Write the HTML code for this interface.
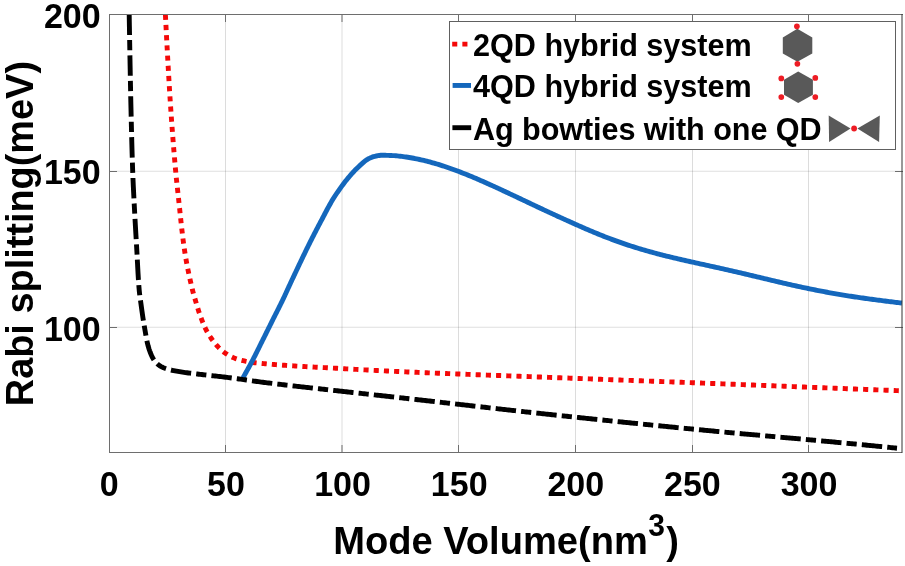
<!DOCTYPE html>
<html><head><meta charset="utf-8"><title>Rabi splitting vs Mode Volume</title>
<style>
html,body{margin:0;padding:0;background:#fff;}
body{width:905px;height:566px;overflow:hidden;}
svg{display:block;}
text{font-family:"Liberation Sans",Arial,Helvetica,sans-serif;font-weight:bold;fill:#000;}
.tk{font-size:34px;}
.lb{font-size:37.9px;}
.lg{font-size:30.6px;}
</style></head><body>
<svg width="905" height="566" viewBox="0 0 905 566">
<rect width="905" height="566" fill="#fff"/>
<defs><clipPath id="cp"><rect x="109.5" y="14.5" width="793.0" height="438.0"/></clipPath></defs>
<g shape-rendering="crispEdges">
<line x1="225.5" y1="14.5" x2="225.5" y2="452.5" stroke="#262626" stroke-opacity="0.16" stroke-width="1"/>
<line x1="342.0" y1="14.5" x2="342.0" y2="452.5" stroke="#262626" stroke-opacity="0.16" stroke-width="1" shape-rendering="geometricPrecision"/>
<line x1="458.5" y1="14.5" x2="458.5" y2="452.5" stroke="#262626" stroke-opacity="0.16" stroke-width="1"/>
<line x1="575.5" y1="14.5" x2="575.5" y2="452.5" stroke="#262626" stroke-opacity="0.16" stroke-width="1"/>
<line x1="692.5" y1="14.5" x2="692.5" y2="452.5" stroke="#262626" stroke-opacity="0.16" stroke-width="1"/>
<line x1="808.5" y1="14.5" x2="808.5" y2="452.5" stroke="#262626" stroke-opacity="0.16" stroke-width="1"/>
<line x1="109.5" y1="327.25" x2="902.5" y2="327.25" stroke="#262626" stroke-opacity="0.15" stroke-width="1" shape-rendering="geometricPrecision"/>
<line x1="109.5" y1="171.25" x2="902.5" y2="171.25" stroke="#262626" stroke-opacity="0.15" stroke-width="1" shape-rendering="geometricPrecision"/>
</g>
<g clip-path="url(#cp)" fill="none" stroke-linejoin="round">
<path d="M165.40,14.50 L165.47,16.00 L165.55,17.50 L165.62,18.99 L165.70,20.49 L165.77,21.99 L165.85,23.49 L165.92,24.99 L166.00,26.49 L166.08,27.98 L166.15,29.48 L166.23,30.98 L166.31,32.48 L166.39,33.98 L166.47,35.47 L166.55,36.97 L166.62,38.47 L166.70,39.97 L166.78,41.46 L166.86,42.96 L166.94,44.46 L167.03,45.96 L167.11,47.46 L167.19,48.95 L167.27,50.45 L167.35,51.95 L167.44,53.45 L167.52,54.94 L167.60,56.44 L167.68,57.94 L167.77,59.44 L167.85,60.94 L167.94,62.43 L168.02,63.93 L168.11,65.43 L168.19,66.93 L168.27,68.42 L168.36,69.92 L168.44,71.42 L168.53,72.92 L168.62,74.41 L168.70,75.91 L168.79,77.41 L168.88,78.91 L168.96,80.40 L169.05,81.90 L169.14,83.40 L169.23,84.90 L169.32,86.39 L169.41,87.89 L169.50,89.39 L169.59,90.89 L169.69,92.38 L169.78,93.88 L169.87,95.38 L169.97,96.87 L170.06,98.37 L170.16,99.87 L170.26,101.36 L170.36,102.86 L170.46,104.36 L170.56,105.85 L170.66,107.35 L170.76,108.85 L170.86,110.34 L170.97,111.84 L171.07,113.34 L171.17,114.83 L171.28,116.33 L171.39,117.83 L171.49,119.32 L171.60,120.82 L171.71,122.31 L171.81,123.81 L171.92,125.31 L172.03,126.80 L172.14,128.30 L172.26,129.79 L172.37,131.29 L172.48,132.79 L172.59,134.28 L172.71,135.78 L172.82,137.27 L172.94,138.77 L173.06,140.27 L173.17,141.76 L173.29,143.26 L173.41,144.75 L173.53,146.25 L173.65,147.74 L173.77,149.24 L173.90,150.73 L174.02,152.23 L174.14,153.72 L174.27,155.22 L174.40,156.71 L174.52,158.21 L174.65,159.70 L174.78,161.20 L174.91,162.69 L175.04,164.18 L175.17,165.68 L175.31,167.17 L175.44,168.67 L175.58,170.16 L175.71,171.65 L175.85,173.15 L175.99,174.64 L176.14,176.13 L176.29,177.62 L176.44,179.12 L176.59,180.61 L176.75,182.10 L176.90,183.59 L177.06,185.08 L177.22,186.58 L177.39,188.07 L177.55,189.56 L177.71,191.05 L177.88,192.54 L178.04,194.03 L178.21,195.52 L178.37,197.01 L178.54,198.50 L178.70,200.00 L178.86,201.49 L179.02,202.98 L179.18,204.47 L179.34,205.96 L179.50,207.46 L179.66,208.95 L179.82,210.44 L179.97,211.93 L180.13,213.43 L180.29,214.92 L180.44,216.41 L180.60,217.91 L180.76,219.40 L180.92,220.89 L181.08,222.39 L181.24,223.88 L181.40,225.37 L181.57,226.86 L181.73,228.36 L181.90,229.85 L182.07,231.34 L182.25,232.83 L182.42,234.32 L182.60,235.81 L182.78,237.29 L182.97,238.78 L183.16,240.27 L183.35,241.75 L183.55,243.24 L183.75,244.72 L183.95,246.21 L184.16,247.69 L184.38,249.17 L184.60,250.65 L184.82,252.13 L185.06,253.61 L185.29,255.09 L185.54,256.57 L185.79,258.05 L186.05,259.53 L186.31,261.00 L186.58,262.48 L186.85,263.96 L187.13,265.43 L187.42,266.91 L187.71,268.38 L188.00,269.86 L188.30,271.33 L188.60,272.80 L188.91,274.27 L189.23,275.74 L189.55,277.21 L189.87,278.67 L190.19,280.14 L190.53,281.60 L190.86,283.07 L191.20,284.53 L191.54,285.99 L191.89,287.45 L192.23,288.90 L192.59,290.36 L192.96,291.81 L193.35,293.25 L193.76,294.70 L194.18,296.14 L194.61,297.58 L195.03,299.02 L195.46,300.46 L195.88,301.90 L196.30,303.34 L196.72,304.78 L197.15,306.22 L197.58,307.65 L198.02,309.09 L198.48,310.52 L198.94,311.94 L199.43,313.36 L199.92,314.78 L200.42,316.19 L200.94,317.60 L201.46,319.01 L202.00,320.40 L202.56,321.80 L203.12,323.19 L203.70,324.58 L204.29,325.96 L204.91,327.33 L205.55,328.69 L206.21,330.02 L206.91,331.34 L207.64,332.66 L208.40,333.96 L209.19,335.24 L210.00,336.51 L210.82,337.76 L211.67,338.99 L212.54,340.21 L213.44,341.42 L214.37,342.61 L215.32,343.78 L216.29,344.93 L217.29,346.04 L218.31,347.12 L219.37,348.18 L220.46,349.22 L221.58,350.24 L222.74,351.22 L223.91,352.16 L225.12,353.04 L226.34,353.86 L227.61,354.67 L228.91,355.45 L230.24,356.18 L231.58,356.87 L232.95,357.51 L234.32,358.07 L235.71,358.58 L237.13,359.05 L238.57,359.50 L240.02,359.91 L241.48,360.30 L242.95,360.65 L244.41,360.98 L245.88,361.28 L247.35,361.56 L248.83,361.83 L250.31,362.08 L251.79,362.31 L253.28,362.52 L254.77,362.71 L256.26,362.87 L257.74,363.02 L259.23,363.18 L260.72,363.32 L262.21,363.47 L263.70,363.61 L265.19,363.75 L266.68,363.88 L268.17,364.02 L269.67,364.15 L271.16,364.27 L272.65,364.40 L274.14,364.52 L275.64,364.64 L277.13,364.75 L278.63,364.87 L280.12,364.98 L281.62,365.09 L283.11,365.20 L284.61,365.30 L286.11,365.41 L287.60,365.51 L289.10,365.61 L290.60,365.71 L292.10,365.80 L293.59,365.90 L295.09,365.99 L296.59,366.08 L298.09,366.17 L299.59,366.26 L301.09,366.35 L302.59,366.44 L304.09,366.53 L305.59,366.61 L307.09,366.70 L308.59,366.78 L310.09,366.86 L311.59,366.94 L313.09,367.03 L314.59,367.11 L316.08,367.19 L317.58,367.27 L319.08,367.35 L320.58,367.43 L322.08,367.51 L323.58,367.59 L325.08,367.67 L326.58,367.75 L328.08,367.83 L329.58,367.91 L331.08,367.99 L332.58,368.07 L334.08,368.15 L335.58,368.24 L337.08,368.32 L338.57,368.40 L340.07,368.49 L341.57,368.58 L343.07,368.66 L344.56,368.75 L346.06,368.83 L347.56,368.92 L349.06,369.00 L350.55,369.09 L352.05,369.17 L353.55,369.26 L355.05,369.34 L356.55,369.42 L358.04,369.50 L359.54,369.58 L361.04,369.67 L362.54,369.75 L364.03,369.83 L365.53,369.91 L367.03,369.98 L368.53,370.06 L370.03,370.14 L371.52,370.22 L373.02,370.30 L374.52,370.37 L376.02,370.45 L377.52,370.53 L379.01,370.60 L380.51,370.67 L382.01,370.75 L383.51,370.82 L385.01,370.90 L386.51,370.97 L388.00,371.04 L389.50,371.11 L391.00,371.18 L392.50,371.25 L394.00,371.32 L395.50,371.39 L396.99,371.46 L398.49,371.53 L399.99,371.60 L401.49,371.67 L402.99,371.73 L404.49,371.80 L405.98,371.87 L407.48,371.93 L408.98,372.00 L410.48,372.07 L411.98,372.13 L413.48,372.19 L414.98,372.26 L416.47,372.32 L417.97,372.39 L419.47,372.45 L420.97,372.51 L422.47,372.58 L423.97,372.64 L425.47,372.70 L426.96,372.76 L428.46,372.83 L429.96,372.89 L431.46,372.95 L432.96,373.01 L434.46,373.07 L435.96,373.13 L437.46,373.19 L438.95,373.25 L440.45,373.31 L441.95,373.37 L443.45,373.43 L444.95,373.49 L446.45,373.55 L447.95,373.61 L449.45,373.66 L450.95,373.72 L452.44,373.78 L453.94,373.84 L455.44,373.90 L456.94,373.95 L458.44,374.01 L459.94,374.07 L461.44,374.13 L462.94,374.18 L464.44,374.24 L465.93,374.30 L467.43,374.35 L468.93,374.41 L470.43,374.47 L471.93,374.52 L473.43,374.58 L474.93,374.63 L476.43,374.69 L477.93,374.74 L479.43,374.80 L480.92,374.86 L482.42,374.91 L483.92,374.97 L485.42,375.02 L486.92,375.08 L488.42,375.13 L489.92,375.19 L491.42,375.24 L492.92,375.30 L494.42,375.35 L495.91,375.41 L497.41,375.46 L498.91,375.51 L500.41,375.57 L501.91,375.62 L503.41,375.68 L504.91,375.73 L506.41,375.79 L507.91,375.84 L509.41,375.90 L510.91,375.95 L512.40,376.01 L513.90,376.06 L515.40,376.12 L516.90,376.17 L518.40,376.23 L519.90,376.28 L521.40,376.34 L522.90,376.39 L524.40,376.45 L525.90,376.50 L527.39,376.56 L528.89,376.61 L530.39,376.67 L531.89,376.72 L533.39,376.78 L534.89,376.83 L536.39,376.89 L537.89,376.94 L539.39,377.00 L540.89,377.06 L542.38,377.11 L543.88,377.17 L545.38,377.23 L546.88,377.28 L548.38,377.34 L549.88,377.40 L551.38,377.45 L552.88,377.51 L554.38,377.57 L555.87,377.62 L557.37,377.68 L558.87,377.74 L560.37,377.79 L561.87,377.85 L563.37,377.91 L564.87,377.96 L566.37,378.02 L567.87,378.07 L569.37,378.13 L570.86,378.19 L572.36,378.24 L573.86,378.30 L575.36,378.36 L576.86,378.41 L578.36,378.47 L579.86,378.52 L581.36,378.58 L582.86,378.64 L584.35,378.69 L585.85,378.75 L587.35,378.80 L588.85,378.86 L590.35,378.92 L591.85,378.97 L593.35,379.03 L594.85,379.08 L596.35,379.14 L597.85,379.19 L599.34,379.25 L600.84,379.30 L602.34,379.36 L603.84,379.42 L605.34,379.47 L606.84,379.53 L608.34,379.58 L609.84,379.64 L611.34,379.69 L612.84,379.75 L614.33,379.80 L615.83,379.86 L617.33,379.92 L618.83,379.97 L620.33,380.03 L621.83,380.08 L623.33,380.14 L624.83,380.19 L626.33,380.25 L627.82,380.30 L629.32,380.36 L630.82,380.41 L632.32,380.47 L633.82,380.53 L635.32,380.58 L636.82,380.64 L638.32,380.69 L639.82,380.75 L641.32,380.80 L642.81,380.86 L644.31,380.91 L645.81,380.97 L647.31,381.03 L648.81,381.08 L650.31,381.14 L651.81,381.19 L653.31,381.25 L654.81,381.30 L656.31,381.36 L657.80,381.42 L659.30,381.47 L660.80,381.53 L662.30,381.58 L663.80,381.64 L665.30,381.69 L666.80,381.75 L668.30,381.81 L669.80,381.86 L671.29,381.92 L672.79,381.97 L674.29,382.03 L675.79,382.09 L677.29,382.14 L678.79,382.20 L680.29,382.26 L681.79,382.31 L683.29,382.37 L684.79,382.42 L686.28,382.48 L687.78,382.54 L689.28,382.59 L690.78,382.65 L692.28,382.71 L693.78,382.76 L695.28,382.82 L696.78,382.88 L698.28,382.93 L699.77,382.99 L701.27,383.05 L702.77,383.11 L704.27,383.16 L705.77,383.22 L707.27,383.28 L708.77,383.33 L710.27,383.39 L711.77,383.45 L713.26,383.51 L714.76,383.56 L716.26,383.62 L717.76,383.68 L719.26,383.74 L720.76,383.79 L722.26,383.85 L723.76,383.91 L725.26,383.97 L726.75,384.02 L728.25,384.08 L729.75,384.14 L731.25,384.20 L732.75,384.25 L734.25,384.31 L735.75,384.37 L737.25,384.43 L738.75,384.49 L740.24,384.54 L741.74,384.60 L743.24,384.66 L744.74,384.72 L746.24,384.77 L747.74,384.83 L749.24,384.89 L750.74,384.95 L752.24,385.01 L753.73,385.06 L755.23,385.12 L756.73,385.18 L758.23,385.24 L759.73,385.30 L761.23,385.36 L762.73,385.41 L764.23,385.47 L765.73,385.53 L767.22,385.59 L768.72,385.65 L770.22,385.70 L771.72,385.76 L773.22,385.82 L774.72,385.88 L776.22,385.94 L777.72,386.00 L779.22,386.05 L780.71,386.11 L782.21,386.17 L783.71,386.23 L785.21,386.29 L786.71,386.35 L788.21,386.41 L789.71,386.46 L791.21,386.52 L792.71,386.58 L794.20,386.64 L795.70,386.70 L797.20,386.76 L798.70,386.81 L800.20,386.87 L801.70,386.93 L803.20,386.99 L804.70,387.05 L806.20,387.11 L807.69,387.16 L809.19,387.22 L810.69,387.28 L812.19,387.34 L813.69,387.40 L815.19,387.46 L816.69,387.52 L818.19,387.57 L819.68,387.63 L821.18,387.69 L822.68,387.75 L824.18,387.81 L825.68,387.87 L827.18,387.92 L828.68,387.98 L830.18,388.04 L831.68,388.10 L833.17,388.16 L834.67,388.22 L836.17,388.27 L837.67,388.33 L839.17,388.39 L840.67,388.45 L842.17,388.51 L843.67,388.57 L845.17,388.62 L846.66,388.68 L848.16,388.74 L849.66,388.80 L851.16,388.86 L852.66,388.92 L854.16,388.97 L855.66,389.03 L857.16,389.09 L858.66,389.15 L860.15,389.21 L861.65,389.26 L863.15,389.32 L864.65,389.38 L866.15,389.44 L867.65,389.50 L869.15,389.55 L870.65,389.61 L872.15,389.67 L873.64,389.73 L875.14,389.79 L876.64,389.84 L878.14,389.90 L879.64,389.96 L881.14,390.02 L882.64,390.08 L884.14,390.14 L885.64,390.19 L887.13,390.25 L888.63,390.31 L890.13,390.37 L891.63,390.43 L893.13,390.48 L894.63,390.54 L896.13,390.60 L897.63,390.66 L899.13,390.72 L900.00,390.75" stroke="#f40808" stroke-width="4.9" stroke-dasharray="5.102 5.102" stroke-dashoffset="-0.3"/>
<path d="M243.00,377.70 L243.75,376.40 L244.49,375.10 L245.23,373.79 L245.97,372.48 L246.70,371.17 L247.43,369.86 L248.16,368.55 L248.88,367.24 L249.60,365.92 L250.31,364.60 L251.02,363.28 L251.72,361.95 L252.42,360.63 L253.11,359.30 L253.80,357.96 L254.48,356.63 L255.16,355.29 L255.83,353.95 L256.51,352.61 L257.17,351.27 L257.84,349.92 L258.51,348.58 L259.17,347.23 L259.84,345.89 L260.50,344.54 L261.17,343.20 L261.83,341.85 L262.50,340.51 L263.17,339.17 L263.84,337.82 L264.51,336.48 L265.18,335.14 L265.84,333.80 L266.51,332.45 L267.18,331.11 L267.85,329.77 L268.51,328.42 L269.18,327.08 L269.85,325.74 L270.51,324.39 L271.18,323.05 L271.85,321.71 L272.52,320.36 L273.19,319.02 L273.86,317.68 L274.53,316.34 L275.21,315.00 L275.89,313.66 L276.57,312.32 L277.24,310.99 L277.92,309.65 L278.60,308.31 L279.27,306.97 L279.94,305.63 L280.61,304.28 L281.27,302.94 L281.93,301.59 L282.58,300.24 L283.23,298.89 L283.87,297.53 L284.51,296.17 L285.14,294.81 L285.77,293.45 L286.40,292.09 L287.02,290.73 L287.64,289.36 L288.27,288.00 L288.89,286.63 L289.52,285.27 L290.15,283.91 L290.78,282.55 L291.41,281.19 L292.05,279.83 L292.69,278.47 L293.33,277.12 L293.97,275.76 L294.61,274.40 L295.25,273.04 L295.89,271.69 L296.53,270.33 L297.17,268.97 L297.81,267.62 L298.45,266.26 L299.09,264.91 L299.74,263.55 L300.38,262.20 L301.03,260.84 L301.68,259.49 L302.32,258.14 L302.97,256.78 L303.62,255.43 L304.28,254.08 L304.93,252.73 L305.58,251.38 L306.24,250.03 L306.90,248.68 L307.56,247.34 L308.22,245.99 L308.89,244.65 L309.55,243.30 L310.22,241.96 L310.89,240.62 L311.56,239.28 L312.24,237.94 L312.92,236.60 L313.60,235.27 L314.28,233.93 L314.97,232.60 L315.66,231.27 L316.35,229.94 L317.05,228.61 L317.74,227.28 L318.44,225.95 L319.14,224.62 L319.84,223.30 L320.54,221.97 L321.25,220.64 L321.95,219.32 L322.65,217.99 L323.35,216.66 L324.04,215.33 L324.74,214.00 L325.44,212.67 L326.13,211.34 L326.84,210.01 L327.54,208.69 L328.25,207.37 L328.97,206.05 L329.70,204.74 L330.44,203.43 L331.19,202.14 L331.95,200.85 L332.72,199.57 L333.51,198.30 L334.31,197.03 L335.12,195.77 L335.95,194.51 L336.78,193.26 L337.63,192.02 L338.48,190.78 L339.34,189.55 L340.21,188.33 L341.09,187.11 L341.98,185.90 L342.87,184.70 L343.77,183.50 L344.68,182.31 L345.60,181.12 L346.54,179.94 L347.48,178.77 L348.43,177.61 L349.40,176.46 L350.37,175.33 L351.36,174.20 L352.36,173.09 L353.38,171.99 L354.41,170.90 L355.45,169.82 L356.51,168.75 L357.59,167.69 L358.67,166.66 L359.77,165.64 L360.88,164.64 L362.00,163.62 L363.13,162.60 L364.28,161.59 L365.45,160.64 L366.66,159.78 L367.92,159.04 L369.24,158.36 L370.61,157.73 L372.03,157.16 L373.47,156.67 L374.91,156.30 L376.36,155.98 L377.84,155.69 L379.34,155.45 L380.84,155.30 L382.33,155.26 L383.82,155.27 L385.32,155.30 L386.82,155.34 L388.33,155.40 L389.83,155.45 L391.33,155.52 L392.83,155.59 L394.32,155.67 L395.82,155.79 L397.31,155.92 L398.81,156.08 L400.30,156.25 L401.79,156.44 L403.28,156.63 L404.77,156.83 L406.25,157.04 L407.73,157.25 L409.21,157.48 L410.69,157.72 L412.17,157.99 L413.64,158.27 L415.12,158.56 L416.59,158.86 L418.06,159.17 L419.53,159.49 L420.99,159.82 L422.45,160.15 L423.91,160.48 L425.37,160.83 L426.83,161.20 L428.28,161.58 L429.73,161.96 L431.18,162.36 L432.62,162.77 L434.06,163.18 L435.51,163.60 L436.94,164.02 L438.38,164.45 L439.81,164.90 L441.24,165.35 L442.67,165.81 L444.09,166.28 L445.52,166.76 L446.94,167.24 L448.36,167.72 L449.78,168.21 L451.19,168.71 L452.61,169.21 L454.02,169.72 L455.43,170.24 L456.83,170.76 L458.23,171.29 L459.63,171.83 L461.03,172.37 L462.43,172.92 L463.83,173.47 L465.22,174.02 L466.61,174.58 L468.00,175.14 L469.39,175.71 L470.78,176.28 L472.16,176.86 L473.55,177.43 L474.93,178.01 L476.31,178.60 L477.69,179.19 L479.07,179.78 L480.45,180.38 L481.82,180.98 L483.19,181.58 L484.56,182.19 L485.93,182.80 L487.30,183.42 L488.67,184.03 L490.04,184.65 L491.41,185.27 L492.77,185.89 L494.14,186.51 L495.50,187.13 L496.87,187.75 L498.23,188.38 L499.59,189.01 L500.95,189.65 L502.31,190.28 L503.67,190.91 L505.03,191.55 L506.38,192.19 L507.74,192.82 L509.10,193.46 L510.46,194.10 L511.82,194.73 L513.17,195.37 L514.53,196.01 L515.89,196.66 L517.24,197.30 L518.60,197.94 L519.95,198.58 L521.31,199.23 L522.66,199.87 L524.02,200.52 L525.37,201.16 L526.73,201.80 L528.08,202.44 L529.44,203.08 L530.80,203.72 L532.15,204.36 L533.51,205.00 L534.87,205.64 L536.22,206.28 L537.58,206.92 L538.94,207.56 L540.30,208.20 L541.65,208.83 L543.01,209.47 L544.37,210.10 L545.73,210.74 L547.09,211.37 L548.45,212.00 L549.81,212.63 L551.17,213.26 L552.54,213.89 L553.90,214.52 L555.26,215.15 L556.62,215.77 L557.99,216.40 L559.35,217.02 L560.71,217.65 L562.08,218.27 L563.45,218.89 L564.81,219.51 L566.18,220.13 L567.54,220.75 L568.91,221.36 L570.28,221.98 L571.65,222.59 L573.02,223.20 L574.39,223.81 L575.76,224.42 L577.13,225.03 L578.50,225.63 L579.88,226.24 L581.25,226.84 L582.62,227.44 L584.00,228.04 L585.38,228.64 L586.75,229.23 L588.13,229.82 L589.51,230.41 L590.90,230.99 L592.28,231.57 L593.66,232.15 L595.05,232.72 L596.44,233.30 L597.82,233.87 L599.21,234.43 L600.60,235.00 L601.99,235.56 L603.39,236.11 L604.78,236.66 L606.18,237.21 L607.58,237.74 L608.98,238.28 L610.38,238.81 L611.79,239.33 L613.20,239.86 L614.60,240.38 L616.01,240.89 L617.42,241.40 L618.84,241.91 L620.25,242.41 L621.67,242.90 L623.09,243.39 L624.50,243.88 L625.92,244.36 L627.35,244.83 L628.77,245.30 L630.20,245.77 L631.62,246.23 L633.05,246.69 L634.48,247.14 L635.92,247.59 L637.35,248.03 L638.78,248.47 L640.22,248.90 L641.66,249.33 L643.10,249.76 L644.53,250.18 L645.98,250.59 L647.42,251.01 L648.86,251.41 L650.31,251.82 L651.75,252.22 L653.20,252.61 L654.65,253.00 L656.10,253.39 L657.55,253.78 L659.00,254.16 L660.45,254.54 L661.90,254.91 L663.36,255.28 L664.81,255.65 L666.27,256.01 L667.72,256.37 L669.18,256.73 L670.64,257.08 L672.09,257.43 L673.55,257.78 L675.01,258.13 L676.47,258.48 L677.93,258.82 L679.39,259.16 L680.85,259.50 L682.32,259.84 L683.78,260.17 L685.24,260.50 L686.70,260.83 L688.17,261.16 L689.63,261.49 L691.10,261.82 L692.56,262.14 L694.02,262.47 L695.49,262.80 L696.95,263.12 L698.42,263.44 L699.88,263.77 L701.35,264.09 L702.81,264.41 L704.28,264.73 L705.74,265.05 L707.21,265.37 L708.67,265.70 L710.14,266.02 L711.60,266.34 L713.07,266.67 L714.53,266.99 L715.99,267.32 L717.46,267.65 L718.92,267.97 L720.39,268.30 L721.85,268.63 L723.31,268.96 L724.78,269.29 L726.24,269.62 L727.70,269.95 L729.17,270.28 L730.63,270.61 L732.09,270.95 L733.55,271.29 L735.01,271.62 L736.48,271.96 L737.94,272.30 L739.40,272.64 L740.86,272.98 L742.32,273.33 L743.78,273.67 L745.24,274.01 L746.70,274.36 L748.16,274.70 L749.62,275.05 L751.08,275.40 L752.54,275.74 L753.99,276.09 L755.45,276.44 L756.91,276.79 L758.37,277.14 L759.83,277.49 L761.29,277.84 L762.75,278.19 L764.21,278.54 L765.66,278.89 L767.12,279.24 L768.58,279.59 L770.04,279.93 L771.50,280.28 L772.96,280.63 L774.42,280.98 L775.88,281.32 L777.34,281.67 L778.80,282.01 L780.26,282.35 L781.72,282.69 L783.18,283.02 L784.65,283.36 L786.11,283.69 L787.57,284.03 L789.03,284.36 L790.50,284.69 L791.96,285.02 L793.42,285.35 L794.89,285.67 L796.35,286.00 L797.82,286.32 L799.28,286.64 L800.75,286.96 L802.21,287.28 L803.68,287.59 L805.15,287.90 L806.62,288.21 L808.08,288.51 L809.55,288.81 L811.02,289.11 L812.49,289.41 L813.97,289.70 L815.44,290.00 L816.91,290.29 L818.38,290.58 L819.85,290.86 L821.33,291.15 L822.80,291.43 L824.27,291.71 L825.75,291.99 L827.22,292.27 L828.70,292.54 L830.17,292.81 L831.65,293.08 L833.12,293.34 L834.60,293.60 L836.08,293.86 L837.56,294.11 L839.04,294.37 L840.51,294.61 L841.99,294.86 L843.47,295.10 L844.96,295.34 L846.44,295.58 L847.92,295.82 L849.40,296.05 L850.88,296.28 L852.36,296.51 L853.85,296.73 L855.33,296.96 L856.81,297.18 L858.30,297.40 L859.78,297.61 L861.27,297.82 L862.75,298.04 L864.24,298.25 L865.72,298.45 L867.21,298.66 L868.70,298.87 L870.18,299.07 L871.67,299.27 L873.15,299.47 L874.64,299.67 L876.13,299.86 L877.62,300.06 L879.10,300.25 L880.59,300.44 L882.08,300.63 L883.57,300.82 L885.06,301.01 L886.54,301.20 L888.03,301.39 L889.52,301.57 L891.01,301.76 L892.50,301.94 L893.99,302.13 L895.47,302.31 L896.96,302.49 L898.45,302.67 L899.94,302.85 L901.43,303.03 L902.00,303.10" stroke="#1467bc" stroke-width="4.9"/>
<path d="M129.20,14.50 L129.22,16.00 L129.25,17.50 L129.27,19.00 L129.30,20.50 L129.32,22.00 L129.35,23.50 L129.37,25.00 L129.40,26.50 L129.43,28.00 L129.45,29.50 L129.48,31.00 L129.50,32.50 L129.53,34.00 L129.56,35.50 L129.58,37.00 L129.61,38.50 L129.64,40.00 L129.66,41.50 L129.69,43.00 L129.72,44.50 L129.74,46.00 L129.77,47.50 L129.80,48.99 L129.82,50.49 L129.85,51.99 L129.88,53.49 L129.91,54.99 L129.93,56.49 L129.96,57.99 L129.99,59.49 L130.02,60.99 L130.05,62.49 L130.07,63.99 L130.10,65.49 L130.13,66.99 L130.16,68.49 L130.19,69.99 L130.22,71.49 L130.24,72.99 L130.27,74.49 L130.30,75.99 L130.33,77.49 L130.36,78.99 L130.39,80.49 L130.42,81.99 L130.45,83.49 L130.48,84.99 L130.51,86.49 L130.54,87.99 L130.57,89.49 L130.60,90.99 L130.63,92.49 L130.66,93.99 L130.69,95.49 L130.72,96.99 L130.76,98.49 L130.79,99.99 L130.82,101.48 L130.85,102.98 L130.89,104.48 L130.92,105.98 L130.96,107.48 L130.99,108.98 L131.03,110.48 L131.06,111.98 L131.09,113.48 L131.13,114.98 L131.16,116.48 L131.20,117.98 L131.23,119.48 L131.27,120.98 L131.31,122.48 L131.34,123.98 L131.38,125.48 L131.41,126.98 L131.45,128.48 L131.49,129.98 L131.52,131.48 L131.56,132.98 L131.60,134.48 L131.64,135.98 L131.68,137.48 L131.72,138.98 L131.76,140.48 L131.80,141.97 L131.84,143.47 L131.88,144.97 L131.92,146.47 L131.96,147.97 L132.00,149.47 L132.05,150.97 L132.09,152.47 L132.13,153.97 L132.18,155.47 L132.22,156.97 L132.27,158.47 L132.32,159.97 L132.36,161.47 L132.41,162.97 L132.46,164.46 L132.51,165.96 L132.56,167.46 L132.61,168.96 L132.66,170.46 L132.72,171.96 L132.77,173.46 L132.83,174.96 L132.89,176.46 L132.95,177.95 L133.01,179.45 L133.08,180.95 L133.15,182.45 L133.21,183.95 L133.28,185.45 L133.35,186.95 L133.43,188.44 L133.50,189.94 L133.57,191.44 L133.65,192.94 L133.72,194.44 L133.80,195.94 L133.87,197.43 L133.95,198.93 L134.02,200.43 L134.10,201.93 L134.17,203.43 L134.25,204.92 L134.33,206.42 L134.41,207.92 L134.49,209.42 L134.57,210.92 L134.65,212.41 L134.73,213.91 L134.81,215.41 L134.89,216.91 L134.98,218.40 L135.06,219.90 L135.14,221.40 L135.23,222.90 L135.31,224.39 L135.40,225.89 L135.49,227.39 L135.57,228.89 L135.66,230.38 L135.74,231.88 L135.83,233.38 L135.92,234.88 L136.01,236.37 L136.09,237.87 L136.18,239.37 L136.27,240.87 L136.36,242.36 L136.44,243.86 L136.53,245.36 L136.62,246.86 L136.70,248.35 L136.79,249.85 L136.88,251.35 L136.96,252.85 L137.04,254.35 L137.12,255.84 L137.20,257.34 L137.28,258.84 L137.36,260.34 L137.43,261.84 L137.51,263.34 L137.59,264.84 L137.66,266.34 L137.74,267.84 L137.82,269.34 L137.90,270.83 L137.98,272.33 L138.07,273.83 L138.16,275.33 L138.25,276.83 L138.34,278.32 L138.43,279.82 L138.53,281.31 L138.64,282.81 L138.75,284.31 L138.86,285.80 L138.97,287.29 L139.10,288.79 L139.22,290.28 L139.37,291.77 L139.53,293.26 L139.71,294.75 L139.90,296.24 L140.11,297.72 L140.31,299.21 L140.52,300.70 L140.73,302.18 L140.94,303.67 L141.14,305.16 L141.35,306.64 L141.55,308.13 L141.76,309.61 L141.97,311.10 L142.19,312.58 L142.40,314.07 L142.62,315.55 L142.84,317.03 L143.07,318.52 L143.30,320.00 L143.53,321.48 L143.77,322.96 L144.02,324.44 L144.27,325.92 L144.52,327.40 L144.78,328.88 L145.04,330.35 L145.30,331.83 L145.55,333.31 L145.80,334.79 L146.06,336.28 L146.32,337.75 L146.60,339.23 L146.89,340.70 L147.21,342.16 L147.55,343.62 L147.92,345.07 L148.31,346.52 L148.74,347.97 L149.19,349.41 L149.67,350.83 L150.18,352.23 L150.73,353.62 L151.31,355.02 L151.95,356.40 L152.65,357.75 L153.40,359.04 L154.21,360.25 L155.13,361.44 L156.13,362.60 L157.22,363.71 L158.35,364.73 L159.53,365.63 L160.75,366.39 L162.07,367.07 L163.45,367.69 L164.89,368.24 L166.33,368.73 L167.76,369.16 L169.19,369.56 L170.64,369.93 L172.10,370.27 L173.58,370.59 L175.05,370.89 L176.54,371.17 L178.02,371.43 L179.50,371.68 L180.97,371.92 L182.45,372.15 L183.94,372.36 L185.42,372.56 L186.91,372.76 L188.40,372.95 L189.89,373.13 L191.38,373.31 L192.87,373.48 L194.36,373.66 L195.85,373.84 L197.34,374.02 L198.83,374.20 L200.32,374.37 L201.81,374.54 L203.30,374.71 L204.79,374.88 L206.29,375.04 L207.78,375.20 L209.27,375.37 L210.76,375.53 L212.25,375.69 L213.74,375.85 L215.23,376.02 L216.72,376.18 L218.21,376.35 L219.71,376.52 L221.20,376.69 L222.68,376.87 L224.17,377.05 L225.66,377.23 L227.15,377.42 L228.64,377.61 L230.13,377.80 L231.61,377.99 L233.10,378.19 L234.59,378.38 L236.07,378.58 L237.56,378.78 L239.05,378.98 L240.53,379.18 L242.02,379.38 L243.51,379.59 L244.99,379.80 L246.48,380.01 L247.96,380.22 L249.45,380.43 L250.93,380.65 L252.42,380.86 L253.90,381.07 L255.39,381.28 L256.87,381.49 L258.36,381.69 L259.85,381.88 L261.33,382.07 L262.82,382.26 L264.31,382.45 L265.80,382.64 L267.29,382.82 L268.77,383.01 L270.26,383.19 L271.75,383.37 L273.24,383.55 L274.73,383.73 L276.22,383.91 L277.71,384.09 L279.20,384.27 L280.69,384.44 L282.18,384.62 L283.67,384.79 L285.16,384.97 L286.65,385.14 L288.14,385.31 L289.63,385.48 L291.12,385.65 L292.61,385.82 L294.10,385.99 L295.59,386.16 L297.08,386.33 L298.57,386.49 L300.06,386.66 L301.55,386.83 L303.04,386.99 L304.53,387.16 L306.02,387.33 L307.52,387.49 L309.01,387.66 L310.50,387.82 L311.99,387.98 L313.48,388.15 L314.97,388.31 L316.46,388.48 L317.95,388.64 L319.44,388.80 L320.94,388.97 L322.43,389.13 L323.92,389.30 L325.41,389.46 L326.90,389.62 L328.39,389.79 L329.88,389.95 L331.37,390.12 L332.87,390.28 L334.36,390.45 L335.85,390.61 L337.34,390.78 L338.83,390.94 L340.32,391.11 L341.81,391.28 L343.30,391.45 L344.79,391.61 L346.28,391.78 L347.77,391.95 L349.26,392.11 L350.75,392.28 L352.25,392.44 L353.74,392.61 L355.23,392.77 L356.72,392.94 L358.21,393.10 L359.70,393.27 L361.19,393.43 L362.68,393.60 L364.17,393.76 L365.66,393.92 L367.15,394.09 L368.65,394.25 L370.14,394.41 L371.63,394.58 L373.12,394.74 L374.61,394.91 L376.10,395.07 L377.59,395.23 L379.08,395.40 L380.57,395.56 L382.07,395.72 L383.56,395.89 L385.05,396.05 L386.54,396.21 L388.03,396.38 L389.52,396.54 L391.01,396.71 L392.50,396.87 L393.99,397.03 L395.48,397.20 L396.98,397.36 L398.47,397.53 L399.96,397.70 L401.45,397.86 L402.94,398.03 L404.43,398.19 L405.92,398.36 L407.41,398.53 L408.90,398.69 L410.39,398.86 L411.88,399.03 L413.37,399.19 L414.86,399.36 L416.36,399.53 L417.85,399.70 L419.34,399.86 L420.83,400.03 L422.32,400.20 L423.81,400.37 L425.30,400.54 L426.79,400.70 L428.28,400.87 L429.77,401.04 L431.26,401.21 L432.75,401.38 L434.24,401.55 L435.73,401.72 L437.22,401.89 L438.71,402.05 L440.20,402.22 L441.69,402.39 L443.18,402.56 L444.67,402.73 L446.17,402.90 L447.66,403.07 L449.15,403.24 L450.64,403.41 L452.13,403.58 L453.62,403.75 L455.11,403.92 L456.60,404.09 L458.09,404.26 L459.58,404.43 L461.07,404.60 L462.56,404.77 L464.05,404.94 L465.54,405.11 L467.03,405.27 L468.52,405.44 L470.01,405.61 L471.50,405.78 L472.99,405.95 L474.48,406.12 L475.97,406.29 L477.46,406.46 L478.95,406.63 L480.44,406.80 L481.94,406.97 L483.43,407.14 L484.92,407.30 L486.41,407.47 L487.90,407.64 L489.39,407.81 L490.88,407.98 L492.37,408.15 L493.86,408.31 L495.35,408.48 L496.84,408.65 L498.33,408.82 L499.82,408.99 L501.31,409.15 L502.80,409.32 L504.29,409.49 L505.78,409.65 L507.28,409.82 L508.77,409.99 L510.26,410.15 L511.75,410.32 L513.24,410.49 L514.73,410.65 L516.22,410.82 L517.71,410.98 L519.20,411.15 L520.69,411.31 L522.18,411.48 L523.67,411.64 L525.17,411.81 L526.66,411.97 L528.15,412.13 L529.64,412.30 L531.13,412.46 L532.62,412.62 L534.11,412.79 L535.60,412.95 L537.09,413.11 L538.59,413.27 L540.08,413.43 L541.57,413.59 L543.06,413.76 L544.55,413.92 L546.04,414.08 L547.53,414.24 L549.02,414.40 L550.52,414.56 L552.01,414.71 L553.50,414.87 L554.99,415.03 L556.48,415.19 L557.97,415.35 L559.47,415.51 L560.96,415.67 L562.45,415.82 L563.94,415.98 L565.43,416.14 L566.92,416.30 L568.41,416.46 L569.91,416.61 L571.40,416.77 L572.89,416.93 L574.38,417.09 L575.87,417.24 L577.37,417.40 L578.86,417.56 L580.35,417.71 L581.84,417.87 L583.33,418.03 L584.82,418.18 L586.32,418.34 L587.81,418.49 L589.30,418.65 L590.79,418.81 L592.28,418.96 L593.78,419.12 L595.27,419.27 L596.76,419.43 L598.25,419.58 L599.74,419.74 L601.24,419.89 L602.73,420.05 L604.22,420.20 L605.71,420.36 L607.20,420.51 L608.70,420.66 L610.19,420.82 L611.68,420.97 L613.17,421.13 L614.66,421.28 L616.16,421.43 L617.65,421.59 L619.14,421.74 L620.63,421.89 L622.13,422.04 L623.62,422.20 L625.11,422.35 L626.60,422.50 L628.09,422.65 L629.59,422.81 L631.08,422.96 L632.57,423.11 L634.06,423.26 L635.56,423.41 L637.05,423.56 L638.54,423.71 L640.03,423.87 L641.53,424.02 L643.02,424.17 L644.51,424.32 L646.00,424.47 L647.50,424.62 L648.99,424.77 L650.48,424.92 L651.97,425.07 L653.47,425.22 L654.96,425.37 L656.45,425.52 L657.94,425.67 L659.44,425.81 L660.93,425.96 L662.42,426.11 L663.91,426.26 L665.41,426.41 L666.90,426.56 L668.39,426.70 L669.89,426.85 L671.38,427.00 L672.87,427.15 L674.36,427.30 L675.86,427.44 L677.35,427.59 L678.84,427.74 L680.33,427.88 L681.83,428.03 L683.32,428.18 L684.81,428.32 L686.31,428.47 L687.80,428.61 L689.29,428.76 L690.78,428.91 L692.28,429.05 L693.77,429.20 L695.26,429.34 L696.76,429.49 L698.25,429.63 L699.74,429.78 L701.23,429.92 L702.73,430.06 L704.22,430.21 L705.71,430.35 L707.21,430.49 L708.70,430.63 L710.19,430.78 L711.69,430.92 L713.18,431.06 L714.67,431.20 L716.17,431.34 L717.66,431.48 L719.15,431.62 L720.65,431.76 L722.14,431.90 L723.63,432.04 L725.13,432.18 L726.62,432.32 L728.11,432.46 L729.61,432.59 L731.10,432.73 L732.60,432.87 L734.09,433.01 L735.58,433.14 L737.08,433.28 L738.57,433.42 L740.06,433.55 L741.56,433.69 L743.05,433.83 L744.55,433.96 L746.04,434.10 L747.53,434.23 L749.03,434.37 L750.52,434.50 L752.02,434.64 L753.51,434.77 L755.00,434.91 L756.50,435.04 L757.99,435.18 L759.49,435.31 L760.98,435.45 L762.47,435.58 L763.97,435.72 L765.46,435.85 L766.96,435.98 L768.45,436.12 L769.94,436.25 L771.44,436.39 L772.93,436.52 L774.43,436.65 L775.92,436.79 L777.41,436.92 L778.91,437.05 L780.40,437.19 L781.90,437.32 L783.39,437.46 L784.88,437.59 L786.38,437.72 L787.87,437.86 L789.37,437.99 L790.86,438.12 L792.35,438.26 L793.85,438.39 L795.34,438.53 L796.84,438.66 L798.33,438.79 L799.82,438.93 L801.32,439.06 L802.81,439.20 L804.31,439.33 L805.80,439.47 L807.29,439.60 L808.79,439.74 L810.28,439.87 L811.78,440.01 L813.27,440.14 L814.76,440.28 L816.26,440.41 L817.75,440.55 L819.25,440.69 L820.74,440.82 L822.23,440.96 L823.73,441.10 L825.22,441.23 L826.71,441.37 L828.21,441.51 L829.70,441.64 L831.20,441.78 L832.69,441.92 L834.18,442.06 L835.68,442.20 L837.17,442.34 L838.66,442.48 L840.16,442.62 L841.65,442.75 L843.14,442.90 L844.64,443.04 L846.13,443.18 L847.62,443.32 L849.12,443.46 L850.61,443.60 L852.10,443.74 L853.60,443.88 L855.09,444.03 L856.58,444.17 L858.08,444.31 L859.57,444.46 L861.06,444.60 L862.55,444.75 L864.05,444.89 L865.54,445.04 L867.03,445.19 L868.53,445.33 L870.02,445.48 L871.51,445.63 L873.00,445.78 L874.50,445.93 L875.99,446.08 L877.48,446.23 L878.97,446.37 L880.47,446.53 L881.96,446.68 L883.45,446.83 L884.94,446.98 L886.44,447.13 L887.93,447.28 L889.42,447.43 L890.91,447.58 L892.41,447.73 L893.90,447.89 L895.39,448.04 L896.88,448.19 L897.00,448.20" stroke="#000" stroke-width="4.9" stroke-dasharray="20.44 5.11 10.22 5.11" stroke-dashoffset="0"/>
</g>
<g shape-rendering="crispEdges">
<path d="M901.5,14.5 H109.5 V452.5 H901.5" fill="none" stroke="#6e6e6e" stroke-width="1"/>
<line x1="109.5" y1="452.5" x2="109.5" y2="445.0" stroke="#6e6e6e"/><line x1="109.5" y1="14.5" x2="109.5" y2="22.0" stroke="#6e6e6e"/>
<line x1="225.5" y1="452.5" x2="225.5" y2="445.0" stroke="#6e6e6e"/><line x1="225.5" y1="14.5" x2="225.5" y2="22.0" stroke="#6e6e6e"/>
<line x1="342.0" y1="452.5" x2="342.0" y2="445.0" stroke="#6e6e6e" shape-rendering="geometricPrecision"/><line x1="342.0" y1="14.5" x2="342.0" y2="22.0" stroke="#6e6e6e" shape-rendering="geometricPrecision"/>
<line x1="458.5" y1="452.5" x2="458.5" y2="445.0" stroke="#6e6e6e"/><line x1="458.5" y1="14.5" x2="458.5" y2="22.0" stroke="#6e6e6e"/>
<line x1="575.5" y1="452.5" x2="575.5" y2="445.0" stroke="#6e6e6e"/><line x1="575.5" y1="14.5" x2="575.5" y2="22.0" stroke="#6e6e6e"/>
<line x1="692.5" y1="452.5" x2="692.5" y2="445.0" stroke="#6e6e6e"/><line x1="692.5" y1="14.5" x2="692.5" y2="22.0" stroke="#6e6e6e"/>
<line x1="808.5" y1="452.5" x2="808.5" y2="445.0" stroke="#6e6e6e"/><line x1="808.5" y1="14.5" x2="808.5" y2="22.0" stroke="#6e6e6e"/>
<line x1="109.5" y1="327.5" x2="117.0" y2="327.5" stroke="#6e6e6e"/><line x1="902.5" y1="327.5" x2="895.0" y2="327.5" stroke="#6e6e6e"/>
<line x1="109.5" y1="171.5" x2="117.0" y2="171.5" stroke="#6e6e6e"/><line x1="902.5" y1="171.5" x2="895.0" y2="171.5" stroke="#6e6e6e"/>
<line x1="109.5" y1="14.5" x2="117.0" y2="14.5" stroke="#6e6e6e"/><line x1="902.5" y1="14.5" x2="895.0" y2="14.5" stroke="#6e6e6e"/>
</g>
<line x1="902" y1="14" x2="902" y2="453" stroke="#333" stroke-width="1"/>
<text transform="translate(109.3,496.0) scale(1,1.04)" text-anchor="middle" class="tk">0</text>
<text transform="translate(225.9,496.0) scale(1,1.04)" text-anchor="middle" class="tk">50</text>
<text transform="translate(342.5,496.0) scale(1,1.04)" text-anchor="middle" class="tk">100</text>
<text transform="translate(459.2,496.0) scale(1,1.04)" text-anchor="middle" class="tk">150</text>
<text transform="translate(575.8,496.0) scale(1,1.04)" text-anchor="middle" class="tk">200</text>
<text transform="translate(692.4,496.0) scale(1,1.04)" text-anchor="middle" class="tk">250</text>
<text transform="translate(809.0,496.0) scale(1,1.04)" text-anchor="middle" class="tk">300</text>
<text transform="translate(100.6,340.8) scale(1,1.03)" text-anchor="end" class="tk">100</text>
<text transform="translate(100.6,184.2) scale(1,1.03)" text-anchor="end" class="tk">150</text>
<text transform="translate(100.6,27.6) scale(1,1.03)" text-anchor="end" class="tk">200</text>

<text transform="translate(333.2,553.6) scale(1,1.04)" class="lb" style="font-size:38.1px">Mode Volume(nm<tspan dy="-17" dx="0.5" font-size="30">3</tspan><tspan dy="17" dx="1.2">)</tspan></text>
<text transform="translate(33.3,233.6) rotate(-90) scale(1,1.04)" text-anchor="middle" class="lb">Rabi splitting(meV)</text>
<!-- legend -->
<rect x="449.5" y="21.5" width="446" height="128" fill="#fff" stroke="#606060" stroke-width="1" shape-rendering="crispEdges"/>
<line x1="452.2" y1="44.1" x2="471" y2="44.1" stroke="#f40808" stroke-width="4.9" stroke-dasharray="5.08 5.08"/>
<line x1="452.6" y1="85.45" x2="471" y2="85.45" stroke="#1467bc" stroke-width="4.9"/>
<line x1="452.4" y1="127.7" x2="471.2" y2="127.7" stroke="#000" stroke-width="4.9"/>
<text transform="translate(473,55.6) scale(1,1.04)" class="lg">2QD hybrid system</text>
<text transform="translate(473,97.3) scale(1,1.04)" class="lg">4QD hybrid system</text>
<text transform="translate(473,139.6) scale(1,1.04)" class="lg" letter-spacing="-0.07">Ag bowties with one QD</text>
<!-- icons -->
<polygon points="797.3,28.8 812.3,37.4 812.3,53.4 797.4,61.8 782.8,53.4 782.8,37.4" fill="#595959"/>
<circle cx="796.9" cy="26.3" r="2.85" fill="#ed1c24"/><circle cx="797.4" cy="63.8" r="2.85" fill="#ed1c24"/>
<polygon points="798.2,71.5 812.9,79.8 812.9,94.8 798.2,103 784,94.8 784,79.8" fill="#595959"/>
<circle cx="781.3" cy="78.4" r="2.85" fill="#ed1c24"/><circle cx="815.3" cy="77.9" r="2.85" fill="#ed1c24"/>
<circle cx="781.3" cy="97.1" r="2.85" fill="#ed1c24"/><circle cx="815.3" cy="97.1" r="2.85" fill="#ed1c24"/>
<polygon points="828.7,115.6 850.5,128.6 829.1,142" fill="#595959"/>
<polygon points="879.8,115.6 857.4,128.6 879.1,142" fill="#595959"/>
<circle cx="854.1" cy="128.5" r="2.9" fill="#ed1c24"/>
</svg>
</body></html>
